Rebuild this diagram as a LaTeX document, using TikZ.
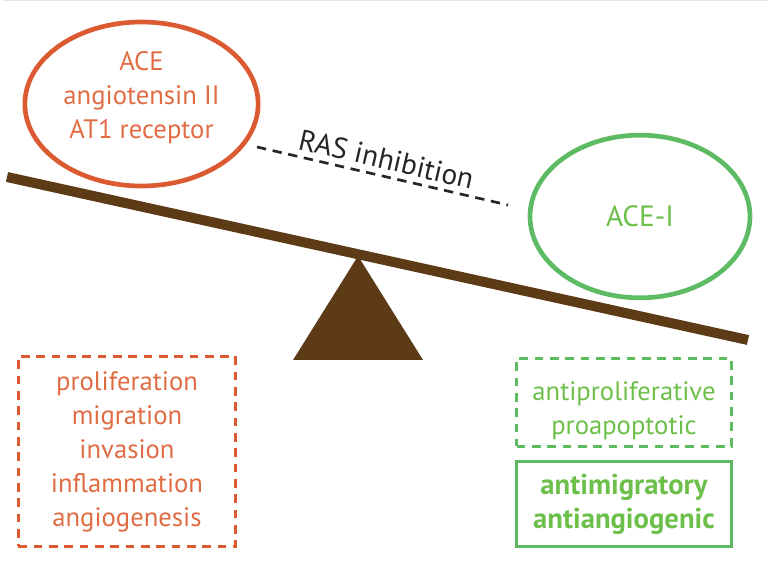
\documentclass[tikz,border=0pt]{standalone}
\usepackage{fontspec}
\setmainfont{PT Sans}
\usetikzlibrary{positioning, shapes.geometric}
\definecolor{rasred}{HTML}{DC5A32}
\definecolor{rasredtxt}{HTML}{E06C44}
\definecolor{aceg}{HTML}{5DBB63}
\definecolor{acegtxt}{HTML}{6CC04A}
\definecolor{beambrown}{HTML}{5E3B17}
\tikzset{
  txt/.style={align=center, font=\fontsize{20}{25.5}\selectfont},
  ellred/.style={ellipse, draw=rasred, line width=3.5pt, txt, text=rasredtxt, minimum width=164pt, minimum height=123pt, text depth=13pt},
  ellgreen/.style={ellipse, draw=aceg, line width=3.5pt, txt, font=\fontsize{22}{25.5}\selectfont, text=acegtxt, minimum width=165pt, minimum height=122pt},
  boxred/.style={draw=rasred, line width=2.2pt, dash pattern=on 6.5pt off 5pt, txt, text=rasredtxt, minimum width=163pt, minimum height=142.5pt},
  boxgreen/.style={draw=aceg, line width=2.2pt, dash pattern=on 6.5pt off 5pt, txt, text=acegtxt, minimum width=161pt, minimum height=66pt},
  boxgreensolid/.style={boxgreen, solid, minimum height=64pt, font=\fontsize{21.5}{25.5}\selectfont\bfseries},
  beam/.style={line width=7.5pt, draw=beambrown},
  rasline/.style={line width=2pt, dash pattern=on 7pt off 5pt, draw=black!85},
  lbl/.style={font=\fontsize{22}{24}\selectfont, text=black!85, sloped, above, inner sep=4pt}
}
\begin{document}
\begin{tikzpicture}[x=0.75pt, y=-0.75pt]
\useasboundingbox (0,0) rectangle (768,573);
\draw[black!10, line width=1.5pt] (3,0.5) -- (768,0.5);
% seesaw
\coordinate (fulcL) at (293,360);
\coordinate (fulcT) at (358,256);
\coordinate (fulcR) at (423,360);
\fill[beambrown] (fulcL) -- (fulcT) -- (fulcR) -- cycle;
\coordinate (beamL) at (7,177);
\coordinate (beamR) at (748,340);
\draw[beam] (beamL) -- (beamR);
% ellipses
\node[ellred] (ras) at (141.5,104) {ACE\\angiotensin II\\AT1 receptor};
\node[ellgreen] (acei) at (640,216.5) {ACE-I};
\coordinate (rasA) at (257,147);
\coordinate (rasB) at (508,205);
\draw[rasline] (rasA) -- node[lbl] {RAS inhibition} (rasB);
% effect boxes
\node[boxred] (effred) at (127,451.5) {proliferation\\migration\\invasion\\inflammation\\angiogenesis};
\node[boxgreen, text height=52pt] (effgreen) at (624,402.5) {antiproliferative\\proapoptotic};
\node[boxgreensolid, below=9pt of effgreen] (effgreenb) {antimigratory\\antiangiogenic};
\end{tikzpicture}
\end{document}
